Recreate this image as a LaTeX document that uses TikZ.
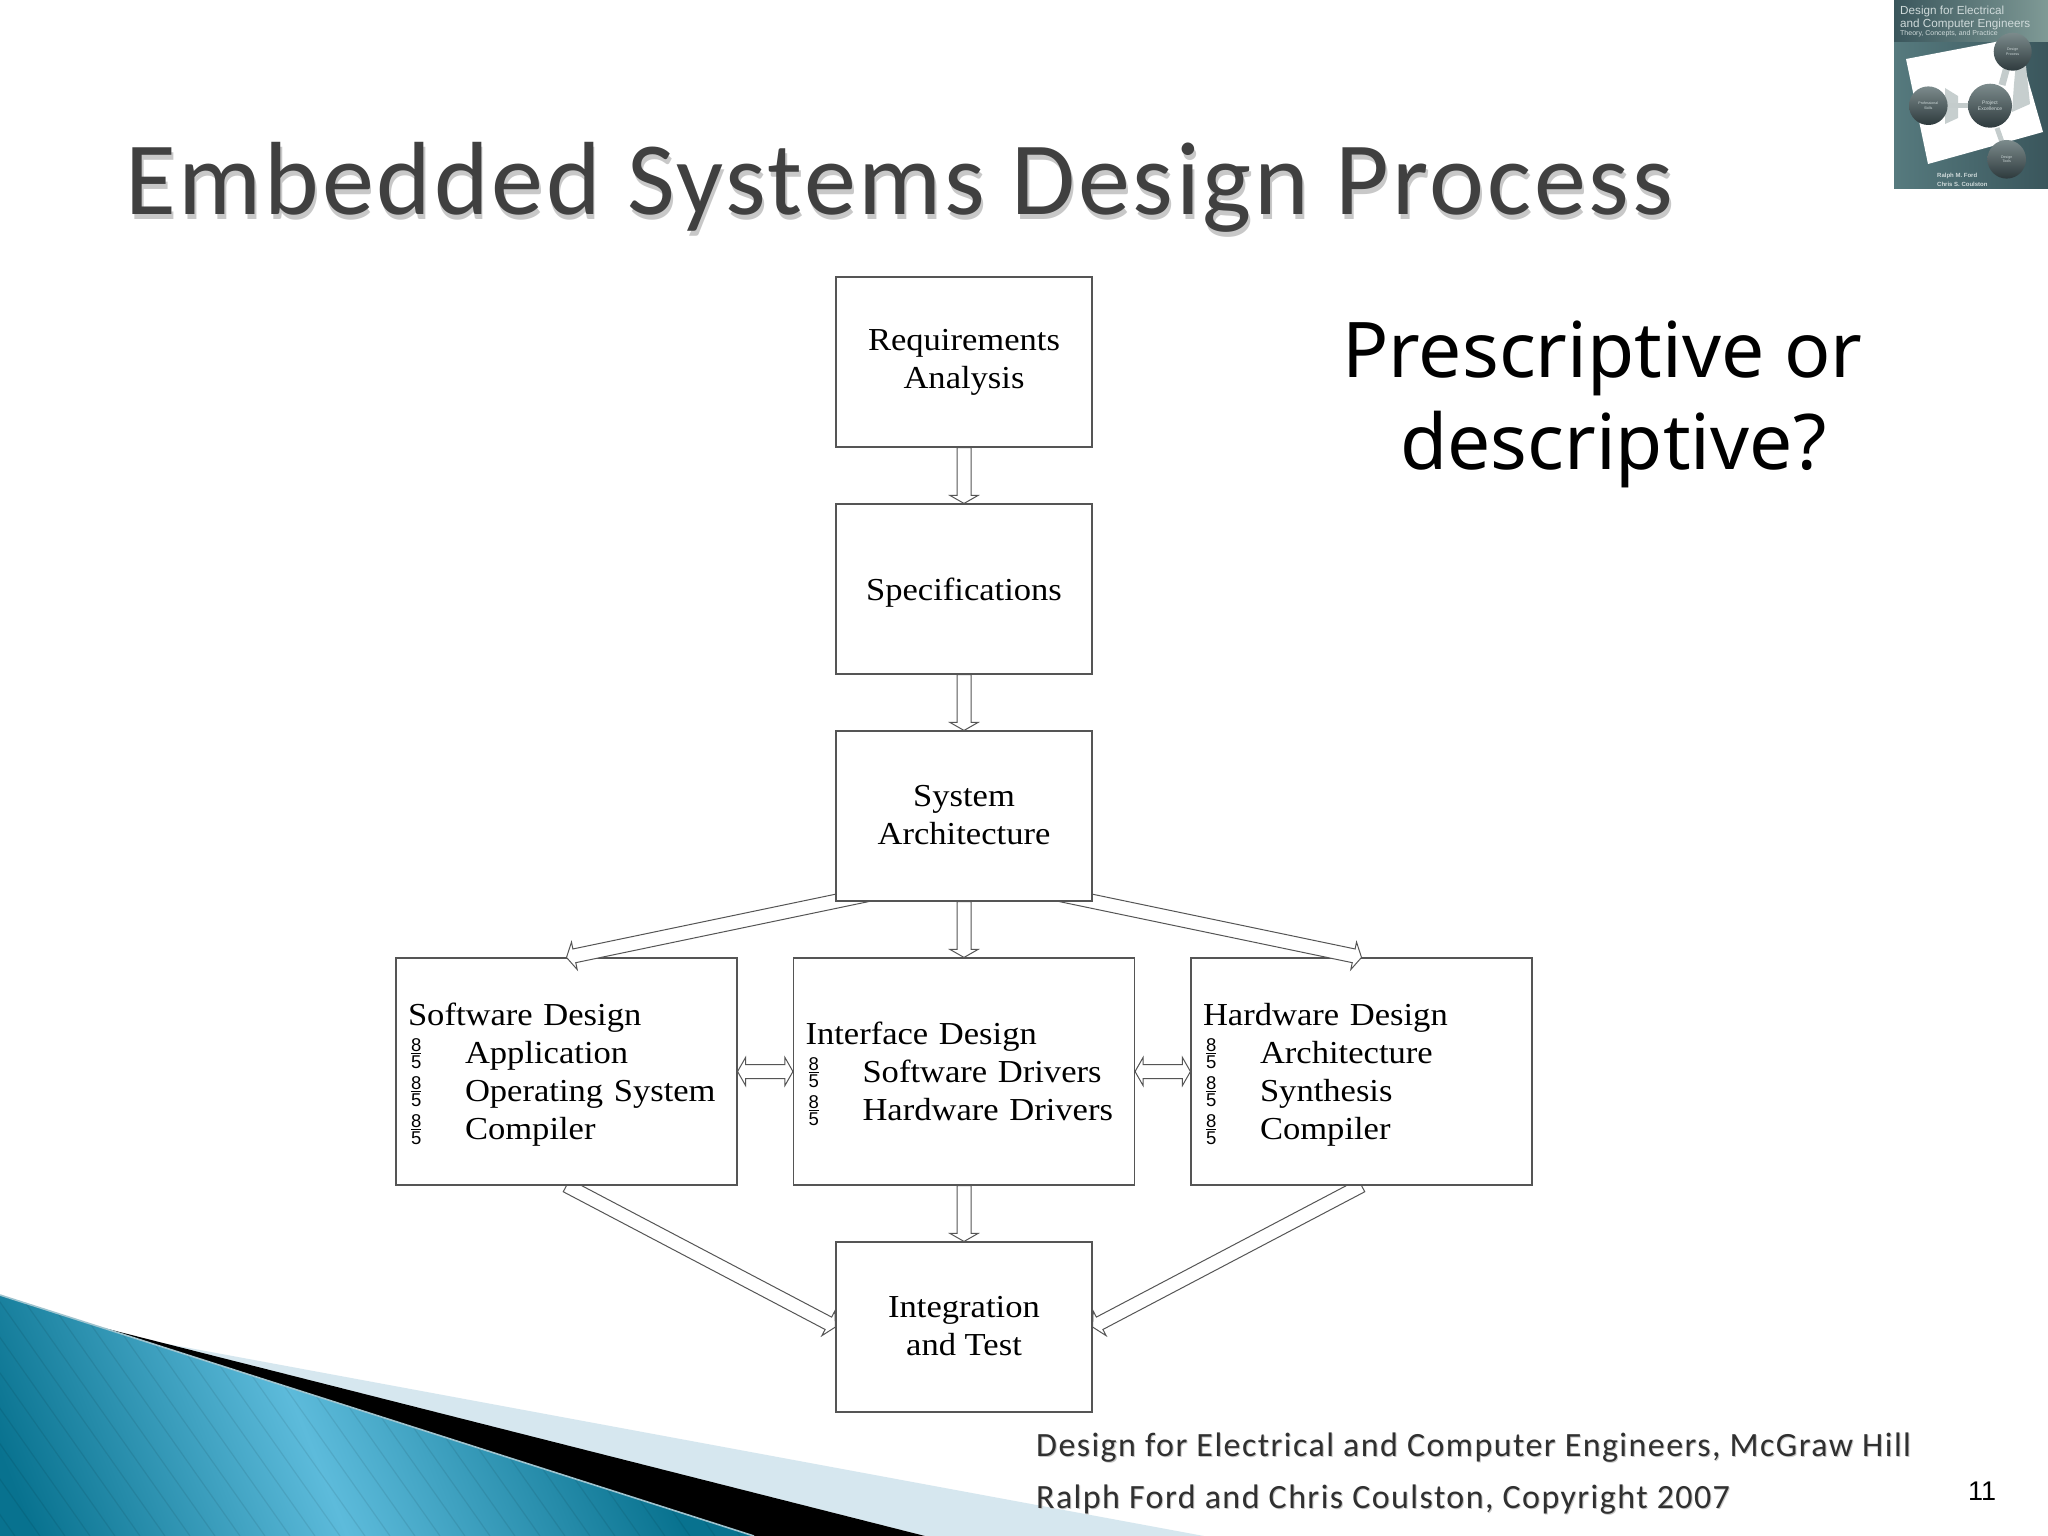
\documentclass[tikz,border=0pt]{standalone}
\usepackage{fontspec}
\usetikzlibrary{calc}
\setmainfont{Liberation Serif}
\newfontfamily\boxfont[FakeStretch=1.08]{Liberation Serif}
\newfontfamily\headfont[LetterSpace=2.7]{Carlito}
\newfontfamily\footfont[LetterSpace=4.15]{Carlito}
\newfontfamily\notefont{Noto Sans}
\newfontfamily\armfont{Liberation Sans}
\definecolor{linegray}{HTML}{555555}
\definecolor{titlegray}{HTML}{404040}
\definecolor{footgray}{HTML}{303030}
\definecolor{shadowgray}{HTML}{C8C8C8}
\definecolor{bluedark}{HTML}{08728F}
\definecolor{bluelight}{HTML}{5DBBDB}
\definecolor{paleblue}{HTML}{D6E7EF}
\definecolor{edgeblue}{HTML}{9FC4CF}
\definecolor{coverdark}{HTML}{3A565C}
\definecolor{covermid}{HTML}{567A7E}
\definecolor{coverpale}{HTML}{7F9A96}
\definecolor{covertext}{HTML}{CFDADA}
\definecolor{balltop}{HTML}{7C8B8C}
\definecolor{ballbottom}{HTML}{2E3A3D}
\definecolor{barlight}{HTML}{C4CCCC}
\definecolor{papershade}{HTML}{C6CECE}
\pgfdeclarehorizontalshading{bluefan}{100bp}{color(0bp)=(bluedark);color(20bp)=(bluedark);color(44bp)=(bluelight);color(70bp)=(bluedark);color(100bp)=(bluedark)}
\pgfdeclarelayer{deco}
\pgfdeclarelayer{arrowsunder}
\pgfdeclarelayer{boxes}
\pgfdeclarelayer{arrowsover}
\pgfsetlayers{deco,arrowsunder,boxes,arrowsover,main}
\newcommand{\fm}{\smash{\raisebox{-5pt}{\vbox{\offinterlineskip\armfont\fontsize{18.5}{18.5}\selectfont\hbox{8}\vskip1.5pt\hrule height 1pt\vskip1.5pt\hbox{5}}}}}
\newcommand{\itm}[1]{\makebox[57pt][l]{\hspace{3pt}\fm}#1}
\newcommand{\shadowed}[3]{\rlap{\hspace{#1}\raisebox{-#2}{\textcolor{shadowgray}{#3}}}#3}
% hollow arrow from #1 to #2
\newcommand{\hollowarrow}[2]{%
  \coordinate (hP) at (#1);\coordinate (hQ) at (#2);
  \coordinate (hB) at ($(hQ)!8pt!(hP)$);
  \draw[hollowline] ($(hP)!7pt!90:(hQ)$) -- ($(hB)!7pt!90:(hQ)$) -- ($(hB)!14pt!90:(hQ)$) -- (hQ)
    -- ($(hB)!14pt!-90:(hQ)$) -- ($(hB)!7pt!-90:(hQ)$) -- ($(hP)!7pt!-90:(hQ)$) -- cycle;}
% hollow arrow with heads at both ends
\newcommand{\hollowboth}[2]{%
  \coordinate (hP) at (#1);\coordinate (hQ) at (#2);
  \coordinate (hB) at ($(hQ)!8pt!(hP)$);\coordinate (hA) at ($(hP)!8pt!(hQ)$);
  \draw[hollowline] (hP) -- ($(hA)!14pt!-90:(hQ)$) -- ($(hA)!7pt!-90:(hQ)$) -- ($(hB)!7pt!90:(hP)$) -- ($(hB)!14pt!90:(hP)$) -- (hQ)
    -- ($(hB)!14pt!-90:(hP)$) -- ($(hB)!7pt!-90:(hP)$) -- ($(hA)!7pt!90:(hQ)$) -- ($(hA)!14pt!90:(hQ)$) -- cycle;}
\tikzset{
  x=1pt,y=-1pt,
  hollowline/.style={draw=linegray,line width=1pt,fill=white,line join=miter},
  boxtext/.style={font=\boxfont\fontsize{32}{38}\selectfont,execute at begin node={\rule[-3pt]{0pt}{#1}},execute at end node={\rule[-3pt]{0pt}{#1}}},
  flowbox/.style={draw=linegray,line width=1.1pt,fill=white,minimum width=256pt,minimum height=170pt,inner sep=0pt,align=center,boxtext=#1},
  flowbox/.default=33pt,
  listbox/.style={draw=linegray,line width=1.1pt,fill=white,minimum width=341pt,minimum height=227pt,inner xsep=12pt,inner ysep=0pt,text width=317pt,align=left,boxtext=#1},
  listbox/.default=32pt,
  ballshade/.style={top color=balltop,bottom color=ballbottom},
  balltext/.style={font=\armfont\fontsize{3.6}{4.2}\selectfont,text=covertext,align=center,inner sep=0pt},
}
\begin{document}
\begin{tikzpicture}
\useasboundingbox (0,0) rectangle (2048,1536);
\begin{pgfonlayer}{deco}
  \fill[white] (0,0) rectangle (2048,1536);
  % corner artwork
  \fill[paleblue] (157,1342) -- (1204,1536) -- (925,1536) -- cycle;
  \fill[black] (104,1328) -- (925,1536) -- (754,1536) -- cycle;
  \shade[shading=bluefan,shading angle=22] (0,1295) -- (754,1536) -- (0,1536) -- cycle;
  \begin{scope}
    \clip (0,1295) -- (754,1536) -- (0,1536) -- cycle;
    \foreach \sx in {-180,-155,...,760} {
      \draw[black,opacity=.08,line width=1.2pt] (\sx,1295) -- ({\sx+170},1536);
    }
  \end{scope}
  \draw[edgeblue,line width=1.6pt] (0,1295) -- (754,1536);
  % book cover
  \begin{scope}
    \clip (1894,0) rectangle (2048,188);
    \shade[left color=covermid,right color=coverdark] (1894,0) rectangle (2048,188);
    \shade[left color=coverdark,right color=coverpale] (1894,0) rectangle (2048,42);
    \fill[white] (1906,59) -- (2016,38) -- (2043,132) -- (1928,164) -- cycle;
    \fill[papershade] (2016,62) -- (2026,66) -- (2030,104) -- (2012,112) -- (2014,84) -- cycle;
    \fill[papershade] (1945,88) -- (1958,96) -- (1958,118) -- (1945,124) -- cycle;
    \draw[barlight,line width=5pt] (1942,106) -- (1968,106);
    \draw[barlight,line width=7pt] (2008,63) -- (2002,85);
    \draw[barlight,line width=5pt] (1997,128) -- (2003,145);
    \shade[ballshade] (2012.7,51.7) circle (19);
    \shade[ballshade] (1928.3,105.7) circle (19.3);
    \shade[ballshade] (1990,105.7) circle (22);
    \shade[ballshade] (2006.7,159.3) circle (19.3);
  \end{scope}
\end{pgfonlayer}
% cover texts
\node[anchor=base west,inner sep=0pt,font=\armfont\fontsize{11.7}{13}\selectfont,text=covertext] (covertitlea) at (1900,15) {Design for Electrical};
\node[anchor=base west,inner sep=0pt,font=\armfont\fontsize{11.7}{13}\selectfont,text=covertext] (covertitleb) at (1900,27.5) {and Computer Engineers};
\node[anchor=base west,inner sep=0pt,font=\armfont\fontsize{7}{7}\selectfont,text=covertext] (coversub) at (1900,36) {Theory, Concepts, and Practice};
\node[balltext] (ballprocess) at (2012.7,51.7) {Design\\Process};
\node[balltext] (ballskills) at (1928.3,105.7) {Professional\\Skills};
\node[balltext,font=\armfont\fontsize{5}{5.8}\selectfont] (ballproject) at (1990,105.7) {Project\\Excellence};
\node[balltext] (balltools) at (2006.7,159.3) {Design\\Tools};
\node[anchor=base west,inner sep=0pt,font=\armfont\bfseries\fontsize{6}{6}\selectfont,text=covertext] (coverauthora) at (1937,178) {Ralph M. Ford};
\node[anchor=base west,inner sep=0pt,font=\armfont\bfseries\fontsize{6}{6}\selectfont,text=covertext] (coverauthorb) at (1937,186) {Chris S. Coulston};
% title
\node[anchor=base west,inner sep=0pt,font=\headfont\fontsize{104}{104}\selectfont,text=titlegray] (title) at (125,214) {\shadowed{2pt}{5pt}{Embedded Systems Design Process}};
% side question
\node[anchor=base west,inner sep=0pt,font=\notefont\fontsize{76.8}{77}\selectfont,text=black] (qa) at (1342,377) {Prescriptive or};
\node[anchor=base west,inner sep=0pt,font=\notefont\fontsize{76.8}{77}\selectfont,text=black] (qb) at (1400,469) {descriptive?};
% footer
\node[anchor=base west,inner sep=0pt,font=\footfont\fontsize{34}{34}\selectfont,text=footgray] (fa) at (1036,1456) {\shadowed{1pt}{1.5pt}{Design for Electrical and Computer Engineers, McGraw Hill}};
\node[anchor=base west,inner sep=0pt,font=\footfont\fontsize{34}{34}\selectfont,text=footgray] (fb) at (1036,1508) {\shadowed{1pt}{1.5pt}{Ralph Ford and Chris Coulston, Copyright 2007}};
\node[anchor=base west,inner sep=0pt,font=\armfont\fontsize{27}{27}\selectfont,text=black] (pagenum) at (1968,1500) {11};
% boxes
\node[flowbox=37pt] (req) at (964,362) {Requirements\\Analysis};
\node[flowbox=32pt] (spec) at (964,589) {Specifications};
\node[flowbox] (sys) at (964,816) {System\\Architecture};
\begin{pgfonlayer}{boxes}
  \node[listbox] (sw) at (566.5,1071.5) {Software Design\\\itm{Application}\\\itm{Operating System}\\\itm{Compiler}};
  \node[listbox=27pt] (if) at (964,1071.5) {Interface Design\\\itm{Software Drivers}\\\itm{Hardware Drivers}};
  \node[listbox] (hw) at (1361.5,1071.5) {Hardware Design\\\itm{Architecture}\\\itm{Synthesis}\\\itm{Compiler}};
  \node[flowbox] (int) at (964,1327) {Integration\\and Test};
\end{pgfonlayer}
% connectors
\begin{pgfonlayer}{arrowsunder}
  \hollowarrow{sw.south}{int.west}
  \hollowarrow{hw.south}{int.east}
\end{pgfonlayer}
\begin{pgfonlayer}{arrowsover}
  \hollowarrow{req.south}{spec.north}
  \hollowarrow{spec.south}{sys.north}
  \hollowarrow{sys.south}{if.north}
  \hollowarrow{if.south}{int.north}
  \hollowarrow{$(sys.south)+(0,-27)$}{sw.north}
  \hollowarrow{$(sys.south)+(0,-27)$}{hw.north}
  \hollowboth{sw.east}{if.west}
  \hollowboth{if.east}{hw.west}
\end{pgfonlayer}
\end{tikzpicture}
\end{document}
